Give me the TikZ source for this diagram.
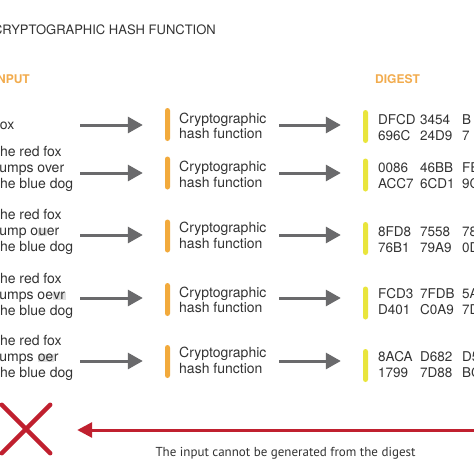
\documentclass[tikz,border=0pt]{standalone}
\usepackage{fontspec}
\setmainfont{TeX Gyre Heros}
\newfontfamily\notefont{PT Sans}
\usepackage{xcolor}
\usetikzlibrary{arrows.meta,positioning}

\definecolor{txtgray}{HTML}{333333}
\definecolor{arrgray}{HTML}{6A6A6C}
\definecolor{barorange}{HTML}{F2AA3C}
\definecolor{baryellow}{HTML}{E9E53C}
\definecolor{headorange}{HTML}{F2AC4E}
\definecolor{hlgray}{HTML}{E0E0E0}
\definecolor{xred}{HTML}{C0202F}

\newcommand{\hl}[1]{{\setlength{\fboxsep}{0.4pt}\colorbox{hlgray}{#1}}}
\newcommand{\dg}[3]{\makebox[42pt][l]{#1}\makebox[42pt][l]{#2}#3}

\tikzset{
  inbox/.style={anchor=west, align=left, inner sep=0pt, text=txtgray, font=\fontsize{14}{16}\selectfont},
  hashbox/.style={anchor=west, align=left, inner sep=0pt, text=txtgray, font=\fontsize{14}{15.5}\selectfont},
  digbox/.style={anchor=west, align=left, inner sep=0pt, text=txtgray, font=\fontsize{13.5}{16}\selectfont},
  obar/.style={fill=barorange, rounded corners=2.5pt, minimum width=5pt, minimum height=33pt, inner sep=0pt},
  ybar/.style={fill=baryellow, rounded corners=2.5pt, minimum width=5pt, minimum height=33pt, inner sep=0pt},
  flow/.style={arrgray, line width=3pt, -{Triangle[length=15pt,width=16pt]}},
  back/.style={xred, line width=3pt, -{Triangle[length=15pt,width=15pt]}},
}

\begin{document}
\begin{tikzpicture}[x=1pt, y=-1pt]
    \useasboundingbox (0,0) rectangle (474,474);
    \fill[white] (0,0) rectangle (474,474);
    \clip (0,0) rectangle (474,474);

    % Headings
    \node[anchor=base east, inner sep=0pt, text=txtgray, font=\fontsize{13}{15}\selectfont] (title) at (216,34.7) {CRYPTOGRAPHIC HASH FUNCTION};
    \node[anchor=base east, inner sep=0pt, text=headorange, font=\fontsize{12}{14}\selectfont\bfseries] (inhead) at (30,83.3) {INPUT};
    \node[anchor=base west, inner sep=0pt, text=headorange, font=\fontsize{12}{14}\selectfont\bfseries] (dighead) at (375,83.3) {DIGEST};

    % Row 1
    \node[inbox] (in1) at (-8.6,124) {Fox};
    \coordinate (s1) at (80,125);
    \node[obar] (ob1) at (167.5,124.5) {};
    \node[hashbox] (hash1) at (179,126) {Cryptographic\\hash function};
    \coordinate (t1) at (279,125);
    \node[ybar] (yb1) at (365.5,126.5) {};
    \node[digbox] (dig1) at (378,128) {\dg{DFCD}{3454}{B}\\\dg{696C}{24D9}{7}};
    \draw[flow] (s1) -- (s1 -| ob1.west) [shorten >=22pt];
    \draw[flow] (t1) -- (t1 -| yb1.west) [shorten >=22pt];

    % Row 2
    \node[inbox] (in2) at (-4,169) {the red fox\\jumps over\\the blue dog};
    \coordinate (s2) at (80,173);
    \node[obar] (ob2) at (167.5,173) {};
    \node[hashbox] (hash2) at (179,174.5) {Cryptographic\\hash function};
    \coordinate (t2) at (279,173);
    \node[ybar] (yb2) at (365.5,175) {};
    \node[digbox] (dig2) at (378,175.5) {\dg{0086}{46BB}{FE}\\\dg{ACC7}{6CD1}{9C}};
    \draw[flow] (s2) -- (s2 -| ob2.west) [shorten >=22pt];
    \draw[flow] (t2) -- (t2 -| yb2.west) [shorten >=22pt];

    % Row 3
    \node[inbox] (in3) at (-4,232) {the red fox\\jump o\hl{u}er\\the blue dog};
    \coordinate (s3) at (80,235);
    \node[obar] (ob3) at (167.5,236) {};
    \node[hashbox] (hash3) at (179,235.5) {Cryptographic\\hash function};
    \coordinate (t3) at (279,235);
    \node[ybar] (yb3) at (365.5,238.5) {};
    \node[digbox] (dig3) at (378,239.5) {\dg{8FD8}{7558}{78}\\\dg{76B1}{79A9}{0D}};
    \draw[flow] (s3) -- (s3 -| ob3.west) [shorten >=22pt];
    \draw[flow] (t3) -- (t3 -| yb3.west) [shorten >=22pt];

    % Row 4
    \node[inbox] (in4) at (-4,296) {the red fox\\jumps oe\hl{vr}\\the blue dog};
    \coordinate (s4) at (80,298);
    \node[obar] (ob4) at (167.5,299.5) {};
    \node[hashbox] (hash4) at (179,300) {Cryptographic\\hash function};
    \coordinate (t4) at (279,298);
    \node[ybar] (yb4) at (365.5,303) {};
    \node[digbox] (dig4) at (378,302) {\dg{FCD3}{7FDB}{5A}\\\dg{D401}{C0A9}{7D}};
    \draw[flow] (s4) -- (s4 -| ob4.west) [shorten >=22pt];
    \draw[flow] (t4) -- (t4 -| yb4.west) [shorten >=22pt];

    % Row 5
    \node[inbox] (in5) at (-4,358) {the red fox\\jumps \hl{oe}r\\the blue dog};
    \coordinate (s5) at (80,361);
    \node[obar] (ob5) at (167.5,361.5) {};
    \node[hashbox] (hash5) at (179,360.5) {Cryptographic\\hash function};
    \coordinate (t5) at (279,361);
    \node[ybar] (yb5) at (365.5,365.5) {};
    \node[digbox] (dig5) at (378,365) {\dg{8ACA}{D682}{D5}\\\dg{1799}{7D88}{BC}};
    \draw[flow] (s5) -- (s5 -| ob5.west) [shorten >=22pt];
    \draw[flow] (t5) -- (t5 -| yb5.west) [shorten >=22pt];

    % No way back
    \node[minimum size=48pt, inner sep=0pt] (cross) at (26,429) {};
    \draw[xred, line width=4.5pt, line cap=round] (cross.north west) -- (cross.south east);
    \draw[xred, line width=4.5pt, line cap=round] (cross.north east) -- (cross.south west);
    \coordinate (rstart) at (480,430);
    \draw[back] (rstart) -- (rstart -| cross.east) [shorten >=27pt];
    \node[inner sep=0pt, text=txtgray, font=\notefont\fontsize{13}{15}\selectfont] (note) at (285.5,453) {The input cannot be generated from the digest};
\end{tikzpicture}
\end{document}
